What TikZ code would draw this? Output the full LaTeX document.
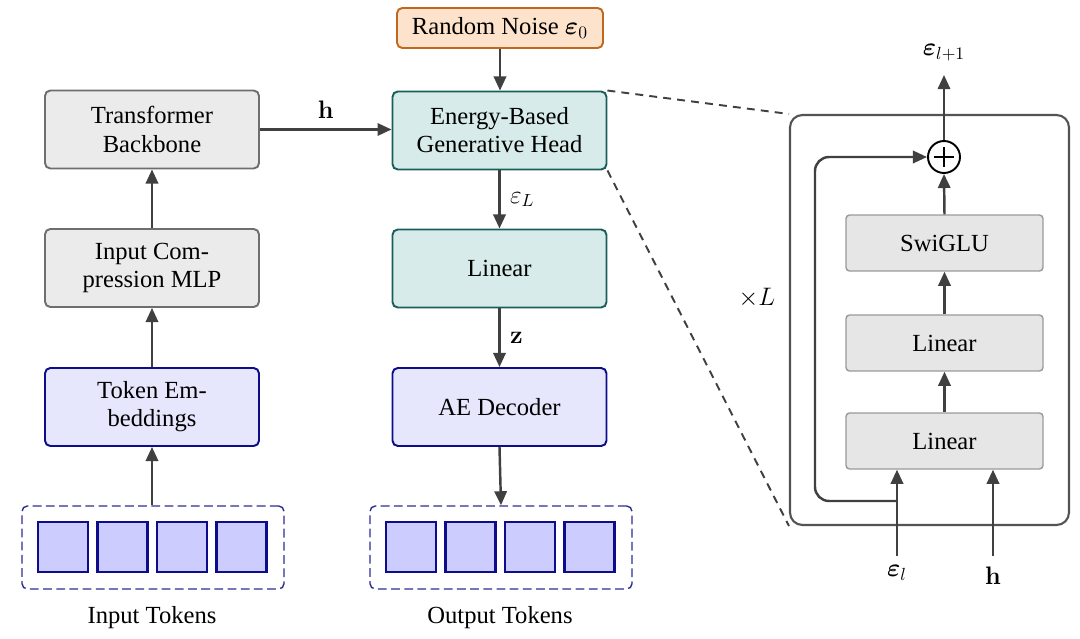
\documentclass[tikz,border=0pt]{standalone}
\usepackage{amsmath}
\usepackage[no-math]{fontspec}
\setmainfont{Liberation Serif}
\usetikzlibrary{arrows.meta}
\definecolor{grayfill}{HTML}{EBEBEB}
\definecolor{grayline}{HTML}{6E6E6E}
\definecolor{tealfill}{HTML}{D7EBEA}
\definecolor{tealline}{HTML}{1A5E5A}
\definecolor{bluefill}{HTML}{E6E6FC}
\definecolor{blueline}{HTML}{0D0D8C}
\definecolor{orfill}{HTML}{FDE3CB}
\definecolor{orline}{HTML}{C0691E}
\definecolor{tokfill}{HTML}{CCCCFF}
\definecolor{dashblue}{HTML}{2E2E90}
\definecolor{arrowc}{HTML}{404040}
\definecolor{innerfill}{HTML}{E6E6E6}
\definecolor{innerline}{HTML}{9A9A9A}
\tikzset{
  txt/.style={font=\fontsize{14}{16}\selectfont},
  blk/.style={txt, rounded corners=3pt, line width=1.1pt, align=center, inner sep=0pt,
    minimum width=4.28cm, minimum height=1.56cm},
  graybox/.style={blk, draw=grayline, fill=grayfill},
  tealbox/.style={blk, draw=tealline, fill=tealfill},
  bluebox/.style={blk, draw=blueline, fill=bluefill},
  orbox/.style={txt, rounded corners=3pt, line width=1.1pt, inner sep=0pt,
    draw=orline, fill=orfill, minimum width=4.12cm, minimum height=0.8cm},
  tok/.style={draw=blueline, fill=tokfill, line width=1.3pt, minimum size=1.0cm, inner sep=0pt},
  tokgroup/.style={draw=dashblue, dash pattern=on 5pt off 2.5pt, line width=0.8pt, rounded corners=3pt,
    minimum width=5.24cm, minimum height=1.66cm, inner sep=0pt},
  innerbox/.style={txt, draw=innerline, fill=innerfill, line width=0.8pt, rounded corners=2pt,
    minimum width=3.94cm, minimum height=1.12cm, inner sep=0pt},
  arr/.style={draw=arrowc, line width=1.4pt, -{Triangle[length=8pt,width=7pt]}},
  zoomline/.style={draw=arrowc, line width=1.1pt, dash pattern=on 4.5pt off 3.5pt},
}
\begin{document}
\begin{tikzpicture}[x=0.02cm, y=-0.02cm]
\useasboundingbox (0,0) rectangle (1080,639);

% left column
\node[graybox] (tb) at (152,129.5) {Transformer\\Backbone};
\node[graybox] (icm) at (152,268) {Input Com-\\pression MLP};
\node[bluebox] (te) at (152,407) {Token Em-\\beddings};
\node[tokgroup] (intok) at (153,547.5) {};
\node[tok] (i1) at (63,547) {};
\node[tok] (i2) at (122.5,547) {};
\node[tok] (i3) at (182,547) {};
\node[tok] (i4) at (241.5,547) {};
\node[txt] (inlab) at (152,618) {Input Tokens};

% middle column
\node[orbox] (noise) at (500,28) {Random Noise $\boldsymbol{\varepsilon}_0$};
\node[tealbox] (head) at (499.5,130.5) {Energy-Based\\Generative Head};
\node[tealbox] (lin) at (499.5,268.5) {Linear};
\node[bluebox] (dec) at (499.5,407) {AE Decoder};
\node[tokgroup] (outtok) at (501,547.5) {};
\node[tok] (o1) at (411,547) {};
\node[tok] (o2) at (470.5,547) {};
\node[tok] (o3) at (530,547) {};
\node[tok] (o4) at (589.5,547) {};
\node[txt] (outlab) at (500,618) {Output Tokens};

% arrows left/middle
\draw[arr] (intok.north -| te.south) -- (te.south);
\draw[arr] (te.north) -- (icm.south);
\draw[arr] (icm.north) -- (tb.south);
\draw[arr] (tb.east) -- node[txt, above, yshift=2pt] (hlab) {$\mathbf{h}$} (tb.east -| head.west);
\draw[arr] (noise.south) -- (noise.south |- head.north);
\draw[arr] (head.south) -- node[txt, right, xshift=2pt] (eLlab) {$\varepsilon_L$} (lin.north);
\draw[arr] (lin.south) -- node[txt, right, xshift=2pt] (zlab) {$\mathbf{z}$} (dec.north);
\draw[arr] (dec.south) -- (outtok.north);

% right panel
\node[draw=arrowc!90, line width=1.2pt, rounded corners=7pt, minimum width=5.58cm, minimum height=8.2cm, inner sep=0pt] (panel) at (929.5,320) {};
\node[innerbox] (sw) at (944.5,243) {SwiGLU};
\node[innerbox] (l2) at (944.5,343) {Linear};
\node[innerbox] (l1) at (944.5,441) {Linear};
\node[circle, draw=black, line width=1.1pt, minimum size=0.64cm, inner sep=0pt] (plus) at (944,157) {};
\draw[line width=0.6pt] ([xshift=-0.2cm]plus.center) -- ([xshift=0.2cm]plus.center);
\draw[line width=0.6pt] ([yshift=-0.2cm]plus.center) -- ([yshift=0.2cm]plus.center);
\node[txt] (eout) at (944,53) {$\boldsymbol{\varepsilon}_{l+1}$};
\coordinate (outtop) at (944,75);
\coordinate (ein) at (897,556);
\coordinate (hin) at (993,556);
\coordinate (skip) at (897,501);
\node[txt] (elab) at (897,573) {$\boldsymbol{\varepsilon}_l$};
\node[txt] (hrlab) at (993,576) {$\mathbf{h}$};
\node[txt] (xL) at (757,298) {$\times L$};

\draw[arr] (l1.north) -- (l2.south);
\draw[arr] (l2.north) -- (sw.south);
\draw[arr] (sw.north) -- (plus.south);
\draw[arr] (plus.north) -- (outtop);
\draw[arr] (ein) -- (ein |- l1.south);
\draw[arr] (hin) -- (hin |- l1.south);
\draw[arr, rounded corners=8pt] (skip) -- (815,501) -- (815,157) -- (plus.west);

% zoom lines
\draw[zoomline] (head.north east) -- (panel.north west);
\draw[zoomline] (head.south east) -- (panel.south west);
\end{tikzpicture}
\end{document}
